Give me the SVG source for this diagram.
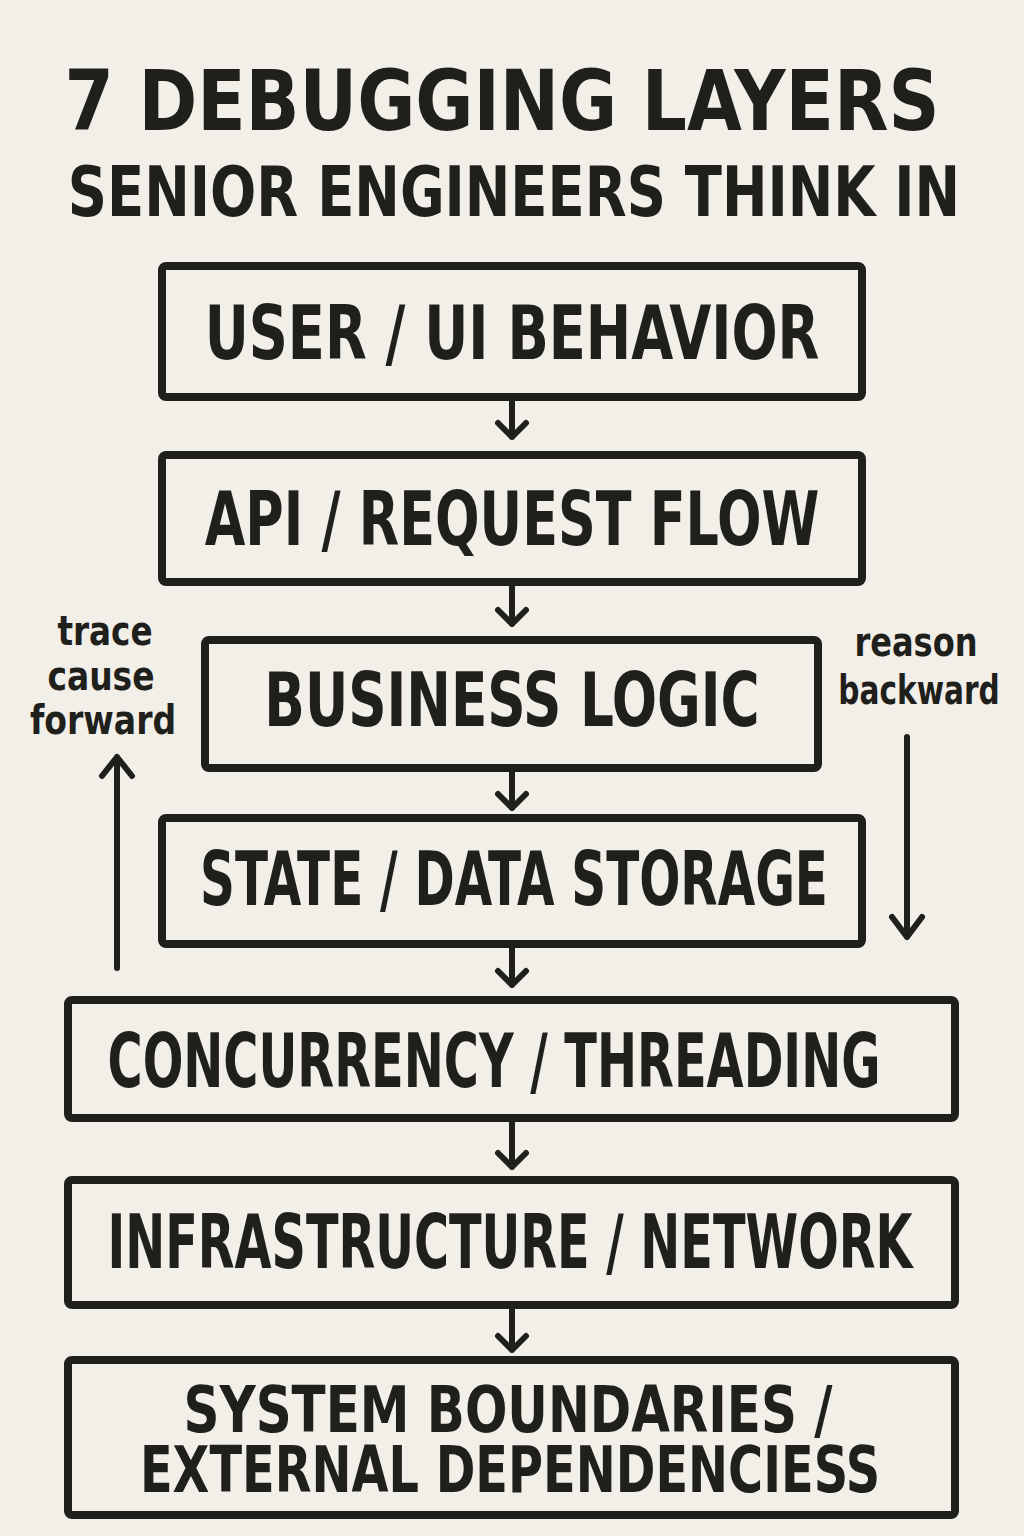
<svg xmlns="http://www.w3.org/2000/svg" width="1024" height="1536" viewBox="0 0 1024 1536">
<defs>
<style>
.bg{fill:#f1efe7}
.box{fill:none;stroke:#1f201c;stroke-width:8;stroke-linejoin:round}
.conn{fill:none;stroke:#1f201c;stroke-width:6;stroke-linecap:round;stroke-linejoin:round}
.t{font-family:"DejaVu Sans Condensed","DejaVu Sans",sans-serif;font-weight:bold;fill:#1f201c;text-anchor:middle}
.title{font-size:84px}
.sub{font-size:70px}
.lbl{font-size:74px}
.lbl2{font-size:64px}
.side{font-family:"DejaVu Sans Condensed","DejaVu Sans",sans-serif;font-weight:bold;font-size:40px;fill:#1f201c;text-anchor:middle}
</style>
</defs>
<rect class="bg" x="0" y="0" width="1024" height="1536"/>
<g id="title">
<text class="t title" transform="translate(502,130) scale(0.78,1)" x="0" y="0" textLength="1122" lengthAdjust="spacingAndGlyphs">7 DEBUGGING LAYERS</text>
<text class="t sub" transform="translate(514,216) scale(0.78,1)" x="0" y="0" textLength="1144" lengthAdjust="spacingAndGlyphs">SENIOR ENGINEERS THINK IN</text>
</g>
<g id="node-user-ui">
<rect class="box" x="162" y="266" width="700" height="131" rx="4"/>
<text class="t lbl" transform="translate(512,359) scale(0.78,1)" x="0" y="0" textLength="788" lengthAdjust="spacingAndGlyphs">USER / UI BEHAVIOR</text>
</g>
<g id="node-api">
<rect class="box" x="162" y="455" width="700" height="127" rx="4"/>
<text class="t lbl" transform="translate(512,545) scale(0.78,1)" x="0" y="0" textLength="788" lengthAdjust="spacingAndGlyphs">API / REQUEST FLOW</text>
</g>
<g id="node-business">
<rect class="box" x="205" y="640" width="613" height="128" rx="4"/>
<text class="t lbl" transform="translate(512,726) scale(0.78,1)" x="0" y="0" textLength="635" lengthAdjust="spacingAndGlyphs">BUSINESS LOGIC</text>
</g>
<g id="node-state">
<rect class="box" x="162" y="818" width="700" height="126" rx="4"/>
<text class="t lbl" transform="translate(514,905) scale(0.78,1)" x="0" y="0" textLength="805" lengthAdjust="spacingAndGlyphs">STATE / DATA STORAGE</text>
</g>
<g id="node-concurrency">
<rect class="box" x="68" y="1000" width="887" height="118" rx="4"/>
<text class="t lbl" transform="translate(494,1087) scale(0.78,1)" x="0" y="0" textLength="991" lengthAdjust="spacingAndGlyphs">CONCURRENCY / THREADING</text>
</g>
<g id="node-infra">
<rect class="box" x="68" y="1180" width="887" height="125" rx="4"/>
<text class="t lbl" transform="translate(510,1268) scale(0.78,1)" x="0" y="0" textLength="1032" lengthAdjust="spacingAndGlyphs">INFRASTRUCTURE / NETWORK</text>
</g>
<g id="node-system">
<rect class="box" x="68" y="1360" width="887" height="155" rx="4"/>
<text class="t lbl2" transform="translate(508,1432) scale(0.78,1)" x="0" y="0" textLength="832" lengthAdjust="spacingAndGlyphs">SYSTEM BOUNDARIES /</text>
<text class="t lbl2" transform="translate(510,1492) scale(0.78,1)" x="0" y="0" textLength="949" lengthAdjust="spacingAndGlyphs">EXTERNAL DEPENDENCIESS</text>
</g>
<g id="side-left">
<text class="side" transform="translate(105,645) scale(0.85,1)" x="0" y="0" textLength="112" lengthAdjust="spacingAndGlyphs">trace</text>
<text class="side" transform="translate(101,690) scale(0.85,1)" x="0" y="0" textLength="126" lengthAdjust="spacingAndGlyphs">cause</text>
<text class="side" transform="translate(103,734) scale(0.85,1)" x="0" y="0" textLength="172" lengthAdjust="spacingAndGlyphs">forward</text>
</g>
<g id="side-right">
<text class="side" transform="translate(916,656) scale(0.85,1)" x="0" y="0" textLength="145" lengthAdjust="spacingAndGlyphs">reason</text>
<text class="side" transform="translate(919,704) scale(0.85,1)" x="0" y="0" textLength="190" lengthAdjust="spacingAndGlyphs">backward</text>
</g>
<g id="connectors">
<path class="conn" d="M512 400 V437 M498 423 L512 437 L526 423"/>
<path class="conn" d="M512 585 V624 M498 610 L512 624 L526 610"/>
<path class="conn" d="M512 771 V808 M498 794 L512 808 L526 794"/>
<path class="conn" d="M512 947 V985 M498 971 L512 985 L526 971"/>
<path class="conn" d="M512 1121 V1167 M498 1153 L512 1167 L526 1153"/>
<path class="conn" d="M512 1308 V1350 M498 1336 L512 1350 L526 1336"/>
<path class="conn" d="M117 968 V757 M102 776 L117 757 L132 776"/>
<path class="conn" d="M907 737 V937 M892 917 L907 937 L922 917"/>
</g>
</svg>
